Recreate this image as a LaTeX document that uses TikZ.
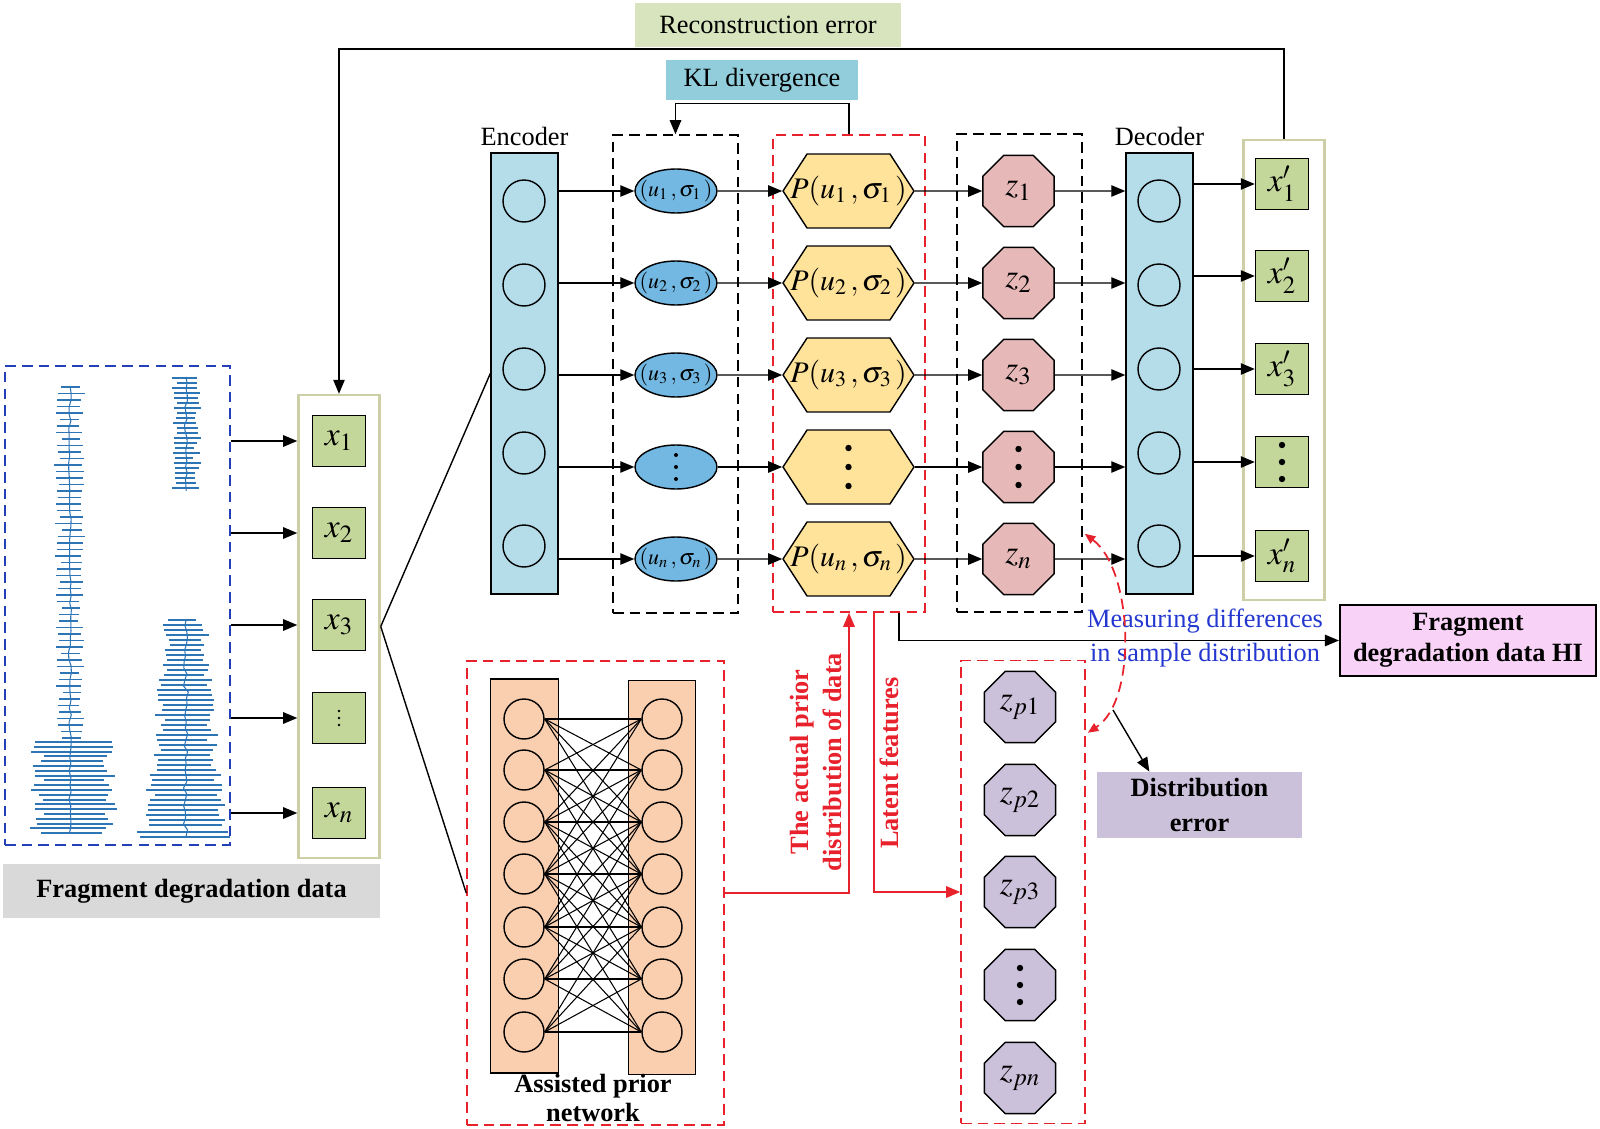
\documentclass[tikz,border=0pt]{standalone}
\usepackage{mathptmx}
\usepackage{fontspec}
\setmainfont{Liberation Serif}
\usetikzlibrary{calc,arrows.meta,positioning,shapes.geometric,shapes.symbols}

\definecolor{recongreen}{HTML}{D7E4BD}
\definecolor{klblue}{HTML}{92CDDC}
\definecolor{layerblue}{HTML}{B4DDE9}
\definecolor{msblue}{HTML}{72B8E2}
\definecolor{pdgold}{HTML}{FFE39B}
\definecolor{lzpink}{HTML}{E6B9B8}
\definecolor{xgreen}{HTML}{C4D79B}
\definecolor{cololive}{HTML}{CDCFA6}
\definecolor{appeach}{HTML}{F9CFAF}
\definecolor{zplilac}{HTML}{CCC1DA}
\definecolor{hipink}{HTML}{F9D3F7}
\definecolor{datagray}{HTML}{D9D9D9}
\definecolor{sigblue}{HTML}{2E75B6}
\definecolor{boxblue}{HTML}{2340B8}
\definecolor{textblue}{HTML}{2438D0}
\definecolor{dashred}{HTML}{E8222C}

\newcommand{\ctr}[1]{\makebox[0pt]{#1}}

\tikzset{
  layer/.style={draw, fill=layerblue, minimum width=1.34cm, minimum height=8.82cm, inner sep=0pt},
  neuron/.style={circle, draw, minimum size=0.84cm, inner sep=0pt},
  msnode/.style={ellipse, draw, fill=msblue, minimum width=1.64cm, minimum height=0.88cm, inner sep=0pt, font=\fontsize{12.5}{14}\selectfont},
  pdnode/.style={signal, signal to=east and west, signal pointer angle=114, draw, fill=pdgold, minimum width=2.62cm, minimum height=1.48cm, inner sep=0pt, font=\fontsize{17}{19}\selectfont},
  lznode/.style={regular polygon, regular polygon sides=8, draw, fill=lzpink, minimum size=1.54cm, inner sep=0pt, font=\fontsize{19}{21}\selectfont},
  zpnode/.style={lznode, fill=zplilac},
  xnode/.style={draw, fill=xgreen, minimum width=1.06cm, minimum height=1.02cm, inner sep=0pt, font=\fontsize{19}{21}\selectfont},
  colbox/.style={draw=cololive, line width=1.4pt, minimum width=1.62cm, inner sep=0pt},
  groupbox/.style={draw, dash pattern=on 6pt off 3.5pt, line width=0.9pt, inner sep=0pt},
  aplayer/.style={draw, fill=appeach, minimum width=1.35cm, minimum height=7.88cm, inner sep=0pt},
  apneuron/.style={circle, draw, minimum size=0.8cm, inner sep=0pt},
  sigbar/.style={draw=sigblue, line width=1.1pt},
  sigline/.style={draw=sigblue, line width=0.6pt},
  redline/.style={draw=dashred, line width=1pt},
  redtxt/.style={text=dashred, font=\bfseries\fontsize{15}{19}\selectfont, align=center},
  boldtxt/.style={font=\bfseries\fontsize{15}{18}\selectfont, align=center},
}

\begin{document}
\begin{tikzpicture}[x=0.02cm,y=-0.02cm,line width=0.8pt,>={Triangle[length=8pt,width=6.5pt]},font=\fontsize{15}{18}\selectfont]
\useasboundingbox (0,0) rectangle (1600,1129);

% loss boxes
\node[fill=recongreen, minimum width=5.34cm, minimum height=0.88cm] (recon) at (768,25) {Reconstruction error};
\node[fill=klblue, minimum width=3.84cm, minimum height=0.8cm] (kl) at (762,80) {KL divergence};

% dashed groups
\node[groupbox, minimum width=2.5cm, minimum height=9.56cm] (msbox) at (675.5,374) {};
\node[groupbox, draw=dashred, minimum width=3.04cm, minimum height=9.54cm] (pdbox) at (849,373.5) {};
\node[groupbox, minimum width=2.5cm, minimum height=9.56cm] (lzbox) at (1019.5,373) {};
\node[groupbox, draw=dashred, minimum width=2.48cm, minimum height=9.26cm] (zpbox) at (1023,892) {};
\node[groupbox, draw=dashred, minimum width=5.14cm, minimum height=9.28cm] (apbox) at (595.5,893) {};
\node[groupbox, draw=boxblue, minimum width=4.5cm, minimum height=9.58cm] (sigbox) at (117.5,605.5) {};

% input / output columns
\node[colbox, minimum height=9.26cm] (xcol) at (339,626.5) {};
\node[colbox, minimum height=9.2cm] (xrcol) at (1284,370) {};
\node[boldtxt, fill=datagray, minimum width=7.54cm, minimum height=1.08cm] (datalab) at (191.5,891) {Fragment degradation data};

% encoder and decoder
\node[layer] (enc) at (524.5,373.5) {};
\node[layer] (dec) at (1159.5,373.5) {};
\node[above=0pt of enc] (enclab) {Encoder};
\node[above=0pt of dec] (declab) {Decoder};
\foreach \i/\y in {1/201,2/285,3/369,4/453,5/546} {
  \node[neuron] (en\i) at (524,\y) {};
  \node[neuron] (dn\i) at (1159,\y) {};
}

% latent rows
\foreach \i/\s/\y in {1/1/191,2/2/283,3/3/375,5/n/559} {
  \node[msnode] (ms\i) at (676,\y) {\ctr{$(u_{\s}\,,\sigma_{\s}\,)$}};
  \node[pdnode] (pd\i) at (848.5,\y) {\ctr{$P(u_{\s}\,,\sigma_{\s}\,)$}};
  \node[lznode] (lz\i) at (1018.5,\y) {$z_{\s}$};
}
\node[msnode] (ms4) at (676,467) {};
\node[pdnode] (pd4) at (848.5,467) {};
\node[lznode] (lz4) at (1018.5,467) {};

\foreach \i/\s/\y in {1/1/184,2/2/276,3/3/369,5/n/556}
  \node[xnode] (xr\i) at (1282,\y) {$x'_{\s}$};
\node[xnode] (xr4) at (1282,462) {};
\foreach \i/\s/\y in {1/1/441,2/2/533,3/3/625,5/n/813}
  \node[xnode] (xin\i) at (339,\y) {$x_{\s}$};
\node[xnode] (xin4) at (339,718) {};

\foreach \i/\s/\y in {1/1/707,2/2/800,3/3/892,5/n/1078}
  \node[zpnode] (zp\i) at (1020,\y) {$z_{p\s}$};
\node[zpnode] (zp4) at (1020,985) {};

% dots
\foreach \n/\g/\r in {ms4/12/2,pd4/19/3.2,lz4/18/3.2,xr4/17/3.2,zp4/17/3.2,xin4/7/1.3}
  \foreach \d in {-1,0,1}
    \fill (\n) ++(0,\d*\g) circle (\r);

% row arrows
\foreach \i in {1,...,5} {
  \draw[->] (enc.east |- ms\i) -- (ms\i);
  \draw[->] (ms\i) -- (pd\i);
  \draw[->] (pd\i) -- (lz\i);
  \draw[->] (lz\i) -- (dec.west |- lz\i);
  \draw[->] (dec.east |- xr\i) -- (xr\i);
  \draw[->] (sigbox.east |- xin\i) -- (xcol.west |- xin\i);
}

% feedback lines
\draw[->] (xrcol.north) -- ++(0,-90) -| (xcol.north);
\draw[->] (pdbox.north) -- ++(0,-31) -| (msbox.north);
\draw (xcol.east) -- (enc.west);
\draw (xcol.east) -- (apbox.west);

% assisted prior network
\node[aplayer] (apl) at (524.5,876) {};
\node[aplayer] (apr) at (662,877.5) {};
\foreach \j/\y in {1/719,2/770,3/822,4/874,5/927,6/979,7/1032} {
  \node[apneuron] (al\j) at (524,\y) {};
  \node[apneuron] (ar\j) at (662,\y) {};
}
\foreach \a in {1,...,7}
  \foreach \b in {1,...,7} {
    \pgfmathtruncatemacro\dd{abs(\a-\b)}
    \ifnum\dd<4 \draw[line width=0.6pt] (al\a.east) -- (ar\b.west); \fi
  }
\node[boldtxt, font=\bfseries\fontsize{15}{17}\selectfont] (aplab) at (593,1098) {Assisted prior\\network};

% outputs
\node[boldtxt, draw, fill=hipink, line width=1.2pt, minimum width=5.12cm, minimum height=1.42cm, font=\bfseries\fontsize{15}{17.6}\selectfont] (hibox) at (1468,640.5) {Fragment\\degradation data HI};
\node[boldtxt, fill=zplilac, minimum width=4.1cm, minimum height=1.24cm, font=\bfseries\fontsize{15}{20}\selectfont] (derr) at (1199.5,805) {Distribution\\error};
\node[text=textblue, align=center, font=\fontsize{15}{19.5}\selectfont] (measlab) at (1205,638) {Measuring differences\\in sample distribution};

\draw[redline,->] (apbox.east) -| (pdbox.south);
\draw[redline,->] ($(pdbox.south)+(25,0)$) |- (zpbox.west);
\draw[->] ($(pdbox.south)+(50,0)$) |- (hibox.west);
\node[redtxt, rotate=90] (priorlab) at (816,762) {The actual prior\\distribution of data};
\node[redtxt, rotate=90] (latentlab) at (889,763) {Latent features};

\coordinate (derrfrom) at (1113,710);
\draw[->] (derrfrom) -- ($(derr.north west)+(53,0)$);
\draw[redline, dash pattern=on 6pt off 3.5pt, {Triangle[length=6pt,width=5pt]}-{Triangle[length=6pt,width=5pt]}]
  ($(lzbox.south east)+(2,-79)$) .. controls (1133,570) and (1138,700) .. ($(zpbox.north east)+(2,73)$);

% degradation signals
\pgfmathsetseed{3}
\foreach \k in {0,...,54} {
  \pgfmathsetmacro\yy{387+6.5*\k}
  \pgfmathsetmacro\ww{9+5*rnd}
  \pgfmathsetmacro\cc{70+2*rand}
  \draw[sigbar] ({\cc-\ww},\yy) -- ({\cc+\ww},\yy);
}
\foreach \k in {0,...,19} {
  \pgfmathsetmacro\yy{742+4.8*\k}
  \pgfmathsetmacro\ww{30+14*rnd}
  \pgfmathsetmacro\cc{72+4*rand}
  \draw[sigbar] ({\cc-\ww},\yy) -- ({\cc+\ww},\yy);
}
\foreach \k in {0,...,22} {
  \pgfmathsetmacro\yy{378+5*\k}
  \pgfmathsetmacro\ww{9+5*rnd}
  \pgfmathsetmacro\cc{186+2*rand}
  \draw[sigbar] ({\cc-\ww},\yy) -- ({\cc+\ww},\yy);
}
\foreach \k in {0,...,41} {
  \pgfmathsetmacro\yy{620+5*\k}
  \pgfmathsetmacro\ww{11+22*\k/41+9*rnd}
  \pgfmathsetmacro\cc{185+3*rand}
  \draw[sigbar] ({\cc-\ww},\yy) -- ({\cc+\ww},\yy);
}
\draw[sigbar] (137,832) -- (228,832);
\draw[sigbar] (140,837) -- (230,837);
\draw[sigline] (70,386) \foreach \k in {1,...,64} { -- ({70+1.5*rand},{386+7*\k}) };
\draw[sigline] (186,377) \foreach \k in {1,...,19} { -- ({186+1.5*rand},{377+6*\k}) };
\draw[sigline] (186,620) \foreach \k in {1,...,36} { -- ({186+2.5*rand},{620+6*\k}) };
\end{tikzpicture}
\end{document}
